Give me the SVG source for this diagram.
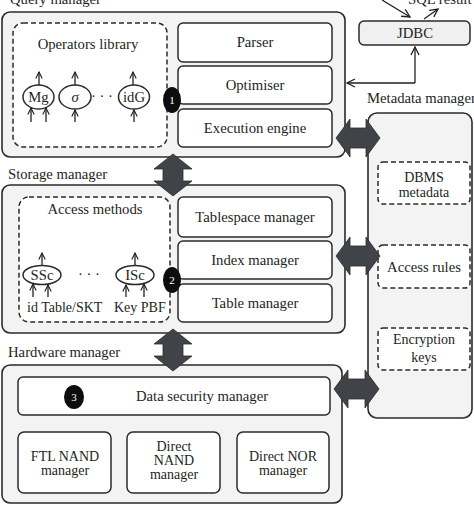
<svg xmlns="http://www.w3.org/2000/svg" width="474" height="506" viewBox="0 0 474 506">
<defs>
<marker id="ah" viewBox="0 0 10 10" refX="9" refY="5" markerWidth="8" markerHeight="8" markerUnits="userSpaceOnUse" orient="auto">
<path d="M1,1 L9,5 L1,9" fill="none" stroke="#231f20" stroke-width="1.4"/>
</marker>
<marker id="ah2" viewBox="0 0 10 10" refX="9" refY="5" markerWidth="10" markerHeight="10" markerUnits="userSpaceOnUse" orient="auto">
<path d="M1,1 L9,5 L1,9" fill="none" stroke="#231f20" stroke-width="1.3"/>
</marker>
</defs>
<style>
text{font-family:'Liberation Serif','DejaVu Serif',serif;fill:#231f20;font-size:14.7px}
.mid{text-anchor:middle}
.ml{font-size:14px}
.lb{font-size:14px}
.outer{fill:#f3f3f3;stroke:#2b2b2b;stroke-width:1.6}
.inner{fill:#ffffff;stroke:#2b2b2b;stroke-width:1.5}
.dash{fill:#ffffff;stroke:#2b2b2b;stroke-width:1.5;stroke-dasharray:5,3}
.op{fill:#ffffff;stroke:#2b2b2b;stroke-width:1.5}
.sm{stroke:#231f20;stroke-width:1.3;fill:none;marker-end:url(#ah)}
.big{fill:#404347;stroke:#2b2b2b;stroke-width:0.8}
.badge{fill:#0d0d0d}
.bt{fill:#ffffff;font-size:11px;text-anchor:middle}
.ln{stroke:#231f20;stroke-width:1.3;fill:none}
</style>

<g id="query-manager">
<text x="10" y="4">Query manager</text>
<rect class="outer" x="2" y="12" width="343" height="145" rx="8"/>
</g>
<g id="operators-library">
<rect class="dash" x="13" y="23" width="154" height="124" rx="10"/>
<text class="mid" x="88" y="49">Operators library</text>
<ellipse class="op" cx="38.5" cy="97" rx="15.5" ry="12"/>
<text class="mid" x="38.5" y="102">Mg</text>
<ellipse class="op" cx="75" cy="97" rx="16" ry="12"/>
<text class="mid" x="75" y="102" font-style="italic">σ</text>
<text class="mid" x="102" y="101">· · ·</text>
<ellipse class="op" cx="134" cy="97" rx="15.5" ry="12"/>
<text class="mid" x="134" y="102">idG</text>
<line class="sm" x1="39" y1="85" x2="39" y2="72"/>
<line class="sm" x1="31" y1="122" x2="31" y2="108"/>
<line class="sm" x1="46" y1="122" x2="46" y2="108"/>
<line class="sm" x1="75" y1="85" x2="75" y2="72"/>
<line class="sm" x1="75" y1="122" x2="75" y2="110"/>
<line class="sm" x1="133" y1="85" x2="133" y2="72"/>
<line class="sm" x1="134" y1="122" x2="134" y2="110"/>
</g>
<g id="parser">
<rect class="inner" x="178" y="23" width="154" height="39" rx="5"/>
<text class="mid" x="255" y="47">Parser</text>
</g>
<g id="optimiser">
<rect class="inner" x="178" y="66" width="154" height="38" rx="5"/>
<text class="mid" x="255" y="90">Optimiser</text>
</g>
<g id="execution-engine">
<rect class="inner" x="178" y="109" width="154" height="38" rx="5"/>
<text class="mid" x="255" y="133">Execution engine</text>
</g>
<g id="badge-1">
<ellipse class="badge" cx="172" cy="100" rx="9" ry="13"/>
<text class="bt" x="172" y="104">1</text>
</g>

<g id="storage-manager">
<text x="8" y="179">Storage manager</text>
<rect class="outer" x="2" y="185" width="343" height="148" rx="8"/>
</g>
<g id="access-methods">
<rect class="dash" x="19" y="197" width="151" height="125" rx="10"/>
<text class="mid" x="95" y="214">Access methods</text>
<ellipse class="op" cx="42" cy="275" rx="19" ry="9.5"/>
<text class="mid" x="42" y="280">SSc</text>
<text class="mid" x="89" y="279">· · ·</text>
<ellipse class="op" cx="135" cy="275" rx="19" ry="9.5"/>
<text class="mid" x="135" y="280">ISc</text>
<line class="sm" x1="42" y1="265" x2="42" y2="253"/>
<line class="sm" x1="33" y1="297" x2="33" y2="284"/>
<line class="sm" x1="48" y1="297" x2="48" y2="285"/>
<line class="sm" x1="135" y1="265" x2="135" y2="253"/>
<line class="sm" x1="126" y1="297" x2="126" y2="285"/>
<line class="sm" x1="144" y1="297" x2="144" y2="284"/>
<text class="lb" x="27" y="312">id Table/SKT</text>
<text class="lb" x="114" y="312">Key PBF</text>
</g>
<g id="tablespace-manager">
<rect class="inner" x="178" y="197" width="154" height="40" rx="5"/>
<text class="mid" x="255" y="222">Tablespace manager</text>
</g>
<g id="index-manager">
<rect class="inner" x="178" y="241" width="154" height="38" rx="5"/>
<text class="mid" x="255" y="265">Index manager</text>
</g>
<g id="table-manager">
<rect class="inner" x="178" y="284" width="154" height="38" rx="5"/>
<text class="mid" x="255" y="308">Table manager</text>
</g>
<g id="badge-2">
<ellipse class="badge" cx="172" cy="280" rx="9" ry="13"/>
<text class="bt" x="172" y="284">2</text>
</g>

<g id="hardware-manager">
<text x="8" y="357">Hardware manager</text>
<rect class="outer" x="2" y="365" width="340" height="138" rx="8"/>
</g>
<g id="data-security-manager">
<rect class="inner" x="18" y="377" width="312" height="38" rx="5"/>
<text class="mid" x="202" y="401">Data security manager</text>
</g>
<g id="badge-3">
<ellipse class="badge" cx="74" cy="397" rx="10" ry="12"/>
<text class="bt" x="74" y="401">3</text>
</g>
<g id="ftl-nand-manager">
<rect class="inner" x="18" y="432" width="93" height="61" rx="6"/>
<text class="mid ml" x="65" y="461">FTL NAND</text>
<text class="mid ml" x="65" y="475">manager</text>
</g>
<g id="direct-nand-manager">
<rect class="inner" x="127" y="432" width="93" height="61" rx="6"/>
<text class="mid ml" x="174" y="451">Direct</text>
<text class="mid ml" x="174" y="465">NAND</text>
<text class="mid ml" x="174" y="479">manager</text>
</g>
<g id="direct-nor-manager">
<rect class="inner" x="237" y="432" width="92" height="61" rx="6"/>
<text class="mid ml" x="283" y="461">Direct NOR</text>
<text class="mid ml" x="283" y="475">manager</text>
</g>

<g id="metadata-manager">
<text x="367" y="103">Metadata manager</text>
<rect class="outer" x="368" y="113" width="104" height="305" rx="9"/>
</g>
<g id="dbms-metadata">
<rect class="dash" x="378" y="162" width="92" height="42" rx="5"/>
<text class="mid ml" x="424" y="182">DBMS</text>
<text class="mid ml" x="424" y="197">metadata</text>
</g>
<g id="access-rules">
<rect class="dash" x="378" y="245" width="92" height="43" rx="5"/>
<text class="mid" x="424" y="272">Access rules</text>
</g>
<g id="encryption-keys">
<rect class="dash" x="378" y="328" width="92" height="42" rx="5"/>
<text class="mid ml" x="424" y="344">Encryption</text>
<text class="mid ml" x="424" y="362">keys</text>
</g>

<g id="jdbc">
<rect x="359" y="21" width="111" height="24" rx="5" fill="#f0f0f0" stroke="#2b2b2b" stroke-width="1.5"/>
<text class="mid" x="415" y="38">JDBC</text>
</g>
<g id="sql-result">
<text x="408" y="4">SQL result</text>
</g>

<g id="connectors">
<line class="ln" x1="382" y1="0" x2="410" y2="17" marker-end="url(#ah2)"/>
<line class="ln" x1="424" y1="19" x2="438" y2="9" marker-end="url(#ah2)"/>
<polyline class="ln" points="415,83 415,47" marker-end="url(#ah2)"/>
<polyline class="ln" points="415,83 347,83" marker-end="url(#ah2)"/>
<path class="big" d="M173,154 L192,169 L183,169 L183,181 L192,181 L173,196 L154,181 L163,181 L163,169 L154,169 Z"/>
<path class="big" d="M173,329 L192,344 L183,344 L183,356 L192,356 L173,371 L154,356 L163,356 L163,344 L154,344 Z"/>
<path class="big" d="M336,138 L350,119 L350,128 L366,128 L366,119 L380,138 L366,157 L366,148 L350,148 L350,157 Z"/>
<path class="big" d="M336,256 L350,237 L350,246 L366,246 L366,237 L380,256 L366,275 L366,266 L350,266 L350,275 Z"/>
<path class="big" d="M334,389 L348,370 L348,379 L365,379 L365,370 L379,389 L365,408 L365,399 L348,399 L348,408 Z"/>
</g>
</svg>
